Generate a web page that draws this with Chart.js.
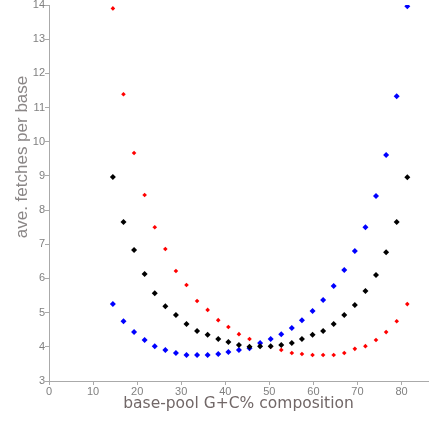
<!DOCTYPE html>
<html>
<head>
<meta charset="utf-8">
<script src="https://cdn.jsdelivr.net/npm/chart.js@4.4.1/dist/chart.umd.min.js"></script>
<style>
  html, body { margin: 0; padding: 0; background: #fff; }
  #wrap { width: 432px; height: 432px; }
</style>
</head>
<body>
<div id="wrap"><canvas id="gcChart" width="432" height="432"></canvas></div>
<script>
// base-pool G+C% (x positions shared by all three series)
var gcPercent = [14.5, 16.9, 19.3, 21.7, 24.0, 26.4, 28.8, 31.2, 33.6, 36.0,
                 38.4, 40.7, 43.1, 45.5, 47.9, 50.3, 52.7, 55.1, 57.4, 59.8,
                 62.2, 64.6, 67.0, 69.4, 71.8, 74.2, 76.5, 78.9, 81.3];

var redFetches = [13.90, 11.39, 9.67, 8.44, 7.50, 6.86, 6.22, 5.81, 5.34, 5.08,
                  4.78, 4.58, 4.37, 4.23, 4.10, 4.00, 3.91, 3.82, 3.79, 3.76,
                  3.76, 3.76, 3.82, 3.94, 4.02, 4.20, 4.43, 4.75, 5.25];

var blackFetches = [8.97, 7.65, 6.83, 6.13, 5.57, 5.19, 4.93, 4.67, 4.46, 4.35,
                    4.23, 4.14, 4.05, 4.00, 4.02, 4.02, 4.05, 4.11, 4.23, 4.35,
                    4.46, 4.67, 4.93, 5.22, 5.63, 6.10, 6.77, 7.65, 8.96];

var blueFetches = [5.25, 4.75, 4.43, 4.20, 4.02, 3.91, 3.82, 3.76, 3.76, 3.76,
                   3.79, 3.85, 3.91, 3.96, 4.11, 4.23, 4.37, 4.55, 4.78, 5.05,
                   5.37, 5.78, 6.25, 6.80, 7.50, 8.41, 9.61, 11.33, 13.96];

var xTitle = 'base-pool G+C% composition';
var yTitle = 'ave. fetches per base';

function toPoints(ys) {
    return gcPercent.map(function (x, i) { return { x: x, y: ys[i] }; });
}

// rotated y title, placed off-centre like the original
var yTitlePlugin = {
    id: 'yTitle',
    afterDraw: function (chart) {
        var ctx = chart.ctx;
        var area = chart.chartArea;
        ctx.save();
        ctx.translate(area.left - 27, area.top + 152);
        ctx.rotate(-Math.PI / 2);
        ctx.textAlign = 'center';
        ctx.textBaseline = 'middle';
        ctx.font = '17px "Liberation Sans", Arial, sans-serif';
        ctx.fillStyle = '#8a8686';
        ctx.fillText(yTitle, 0, 0);
        ctx.restore();
    }
};

var ctx = document.getElementById('gcChart').getContext('2d');
var gcChart = new Chart(ctx, {
    type: 'scatter',
    data: {
        datasets: [{
            label: 'black',
            data: toPoints(blackFetches),
            backgroundColor: '#000000',
            pointStyle: 'rectRot',
            pointRadius: 3,
            borderWidth: 0
        }, {
            label: 'blue',
            data: toPoints(blueFetches),
            backgroundColor: '#0000ff',
            pointStyle: 'rectRot',
            pointRadius: 3,
            borderWidth: 0
        }, {
            label: 'red',
            data: toPoints(redFetches),
            backgroundColor: '#ff0000',
            pointStyle: 'rectRot',
            pointRadius: 2.3,
            borderWidth: 0
        }]
    },
    options: {
        responsive: false,
        animation: false,
        layout: { padding: { top: 5, right: 1, bottom: 0, left: 0 } },
        plugins: {
            legend: { display: false },
            tooltip: { enabled: false }
        },
        scales: {
            x: {
                type: 'linear',
                min: 0,
                max: 86,
                grid: { drawOnChartArea: false, drawTicks: true, tickLength: 4, color: '#aaaaaa' },
                border: { color: '#aaaaaa' },
                ticks: {
                    stepSize: 10,
                    includeBounds: false,
                    padding: 0,
                    color: '#808080',
                    font: { family: '"Liberation Sans", Arial, sans-serif', size: 11 }
                },
                title: {
                    display: true,
                    text: xTitle,
                    color: '#716767',
                    padding: { top: 19, bottom: 19 },
                    font: { family: '"DejaVu Sans", sans-serif', size: 15.5 }
                },
                afterFit: function (scale) { scale.height = 51; }
            },
            y: {
                min: 3,
                max: 14,
                grid: { drawOnChartArea: false, drawTicks: true, tickLength: 4, color: '#aaaaaa' },
                border: { color: '#aaaaaa' },
                ticks: {
                    stepSize: 1,
                    padding: 0,
                    color: '#808080',
                    font: { family: '"Liberation Sans", Arial, sans-serif', size: 11 }
                },
                afterFit: function (scale) {
                    scale.width = 49;
                    scale.paddingTop = 5;
                    scale.paddingBottom = 0;
                }
            }
        }
    },
    plugins: [yTitlePlugin]
});
</script>
</body>
</html>
